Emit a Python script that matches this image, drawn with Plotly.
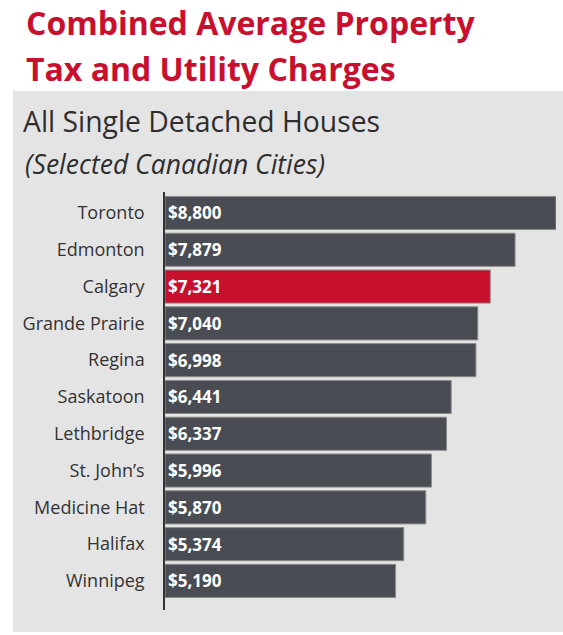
import plotly.graph_objects as go

cities = ["Toronto", "Edmonton", "Calgary", "Grande Prairie", "Regina", "Saskatoon",
          "Lethbridge", "St. John’s", "Medicine Hat", "Halifax", "Winnipeg"]
values = [8800, 7879, 7321, 7040, 6998, 6441, 6337, 5996, 5870, 5374, 5190]
highlight = "Calgary"

title_lines = ["Combined Average Property", "Tax and Utility Charges"]
subtitle = "All Single Detached Houses"
subsubtitle = "(Selected Canadian Cities)"

W, H = 563, 635
RED = "#c8102e"
DARK = "#4a4c54"

colors = [RED if c == highlight else DARK for c in cities]

fig = go.Figure(go.Bar(
    y=cities, x=values, orientation="h",
    marker=dict(color=colors, line=dict(color="#8c8c8c", width=1)),
    width=0.9,
    texttemplate="$%{x:,}", textposition="inside", insidetextanchor="start",
    textfont=dict(family="Open Sans", size=17, color="white", weight="bold"),
    hoverinfo="skip",
))

def px(x):
    return x / W

def py(y):
    return 1 - y / H

fig.update_layout(
    width=W, height=H,
    margin=dict(l=0, r=0, t=0, b=0),
    paper_bgcolor="white", plot_bgcolor="rgba(0,0,0,0)",
    showlegend=False,
    font=dict(family="Open Sans", color="#333333"),
    xaxis=dict(domain=[px(165), px(556)], range=[0, 8800], visible=False, fixedrange=True),
    yaxis=dict(domain=[py(610), py(192)], categoryorder="array", categoryarray=cities,
               range=[10.79, -0.57], showline=True, linecolor="#333333", linewidth=1.5,
               showgrid=False, ticks="", ticklabelstandoff=15,
               tickfont=dict(family="Open Sans", size=18, color="#333333")),
    shapes=[dict(type="rect", xref="paper", yref="paper", x0=px(13), x1=1.0,
                 y0=py(632), y1=py(91), fillcolor="#e4e4e4", line=dict(width=0), layer="below")],
    annotations=[
        dict(text=title_lines[0], x=px(24), y=py(23), xref="paper", yref="paper",
             xanchor="left", yanchor="middle", showarrow=False,
             font=dict(family="Open Sans", size=32, color=RED, weight="bold")),
        dict(text=title_lines[1], x=px(24), y=py(69), xref="paper", yref="paper",
             xanchor="left", yanchor="middle", showarrow=False,
             font=dict(family="Open Sans", size=32, color=RED, weight="bold")),
        dict(text=subtitle, x=px(21), y=py(121), xref="paper", yref="paper",
             xanchor="left", yanchor="middle", showarrow=False,
             font=dict(family="Open Sans", size=28.3, color="#2e2e2e")),
        dict(text="<i>" + subsubtitle + "</i>", x=px(23), y=py(164), xref="paper", yref="paper",
             xanchor="left", yanchor="middle", showarrow=False,
             font=dict(family="Open Sans", size=26.5, color="#2e2e2e")),
    ],
)

fig.write_html("out.html", config={"displayModeBar": False},
               post_script="document.body.style.margin='0';document.body.style.overflow='hidden';")
